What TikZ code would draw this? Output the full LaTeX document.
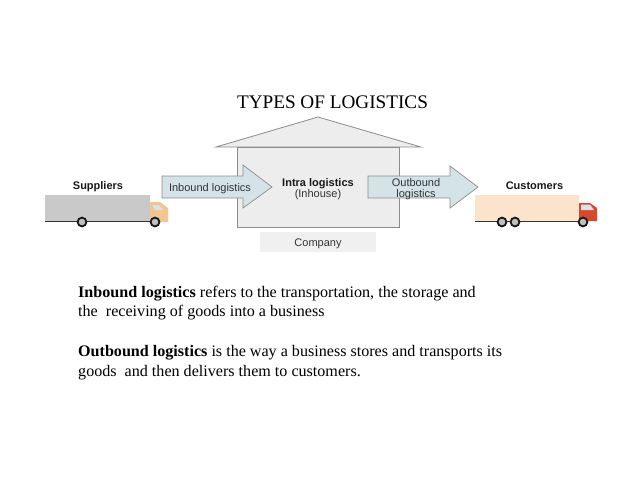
\documentclass[tikz,border=0pt]{standalone}
\usepackage{fontspec}
\setmainfont{Liberation Serif}
\newfontfamily\dsans{Liberation Sans}
\definecolor{flowblue}{HTML}{D3E3E8}
\definecolor{cargoA}{HTML}{C9C9C9}
\definecolor{cabA}{HTML}{F3C58F}
\definecolor{cargoB}{HTML}{FCE3CB}
\definecolor{cabB}{HTML}{D6472B}
\definecolor{glass}{HTML}{D6E2EC}
\tikzset{
  px/.style={x=1pt,y=-1pt},
  wall/.style={draw=black!45,fill=black!7,line width=0.8pt},
  flow/.style={draw=black!45,fill=flowblue,line width=0.7pt},
  lab/.style={font=\dsans\fontsize{11}{12}\selectfont,text=black!80,align=center,inner sep=0pt,anchor=base},
  blab/.style={font=\dsans\bfseries\fontsize{11}{12}\selectfont,text=black!90,align=center,inner sep=0pt,anchor=base},
  body/.style={font=\fontsize{16.1}{20}\selectfont,anchor=base west,inner sep=0pt},
  axle/.style={draw=black!80,line width=1.4pt},
  wheel/.style={draw=black!90,fill=black!25,line width=1.8pt},
}
\begin{document}
\begin{tikzpicture}[px]
\useasboundingbox (0,0) rectangle (638,493);
\fill[white] (0,0) rectangle (638,493);
\node[font=\fontsize{19.2}{22}\selectfont,inner sep=0pt,anchor=base] (title) at (332.5,108.5) {TYPES OF LOGISTICS};
% house
\draw[wall] (216,147) -- (318,117) -- (421,147) -- cycle;
\draw[wall] (237,147) rectangle (399,227);
\fill[black!6] (260,232) rectangle (376,252);
\node[lab] (company) at (318,246) {Company};
% arrows
\draw[flow] (162,176) -- (243,176) -- (243,165) -- (272,187) -- (243,208) -- (243,198) -- (162,198) -- cycle;
\draw[flow] (368,176) -- (450,176) -- (450,166) -- (478,187) -- (450,208) -- (450,198) -- (368,198) -- cycle;
\node[lab] (inb) at (210,191) {Inbound logistics};
\node[lab] (outb) at (416,186) {Outbound};
\node[lab] (outc) at (416,197) {logistics};
\node[blab] (intra) at (318,186.5) {Intra logistics};
\node[lab] (inh) at (318,197) {(Inhouse)};
\node[blab] (sup) at (98,189) {Suppliers};
\node[blab] (cus) at (534.5,189) {Customers};
% truck 1
\fill[cargoA] (45,195) rectangle (150,221);
\fill[cabA] (150,202) -- (160,202) -- (168,208) -- (168,222) -- (150,222) -- cycle;
\fill[glass] (152,205) -- (159,205) -- (163,210) -- (155,210) -- cycle;
\draw[axle] (45,221.5) -- (160,221.5);
\draw[wheel] (82,222) circle (4.4);
\draw[wheel] (155,222) circle (4.4);
% truck 2
\fill[cargoB] (475,195) rectangle (579,221);
\fill[cabB] (579,203) -- (590,203) -- (597,208) -- (597,221) -- (579,221) -- cycle;
\fill[glass] (581,204.5) -- (590,204.5) -- (594,210) -- (581,210) -- cycle;
\draw[axle] (475,221.5) -- (588,221.5);
\draw[wheel] (502,222) circle (4.4);
\draw[wheel] (515,222) circle (4.4);
\draw[wheel] (583,222) circle (4.4);
% body text
\node[body] (l1) at (78,297) {\textbf{Inbound logistics} refers to the transportation, the storage and};
\node[body] (l2) at (78,316) {the\ \ receiving of goods into a business};
\node[body] (l3) at (78,356) {\textbf{Outbound logistics} is the way a business stores and transports its};
\node[body] (l4) at (78,376) {goods\ \ and then delivers them to customers.};
\end{tikzpicture}
\end{document}
